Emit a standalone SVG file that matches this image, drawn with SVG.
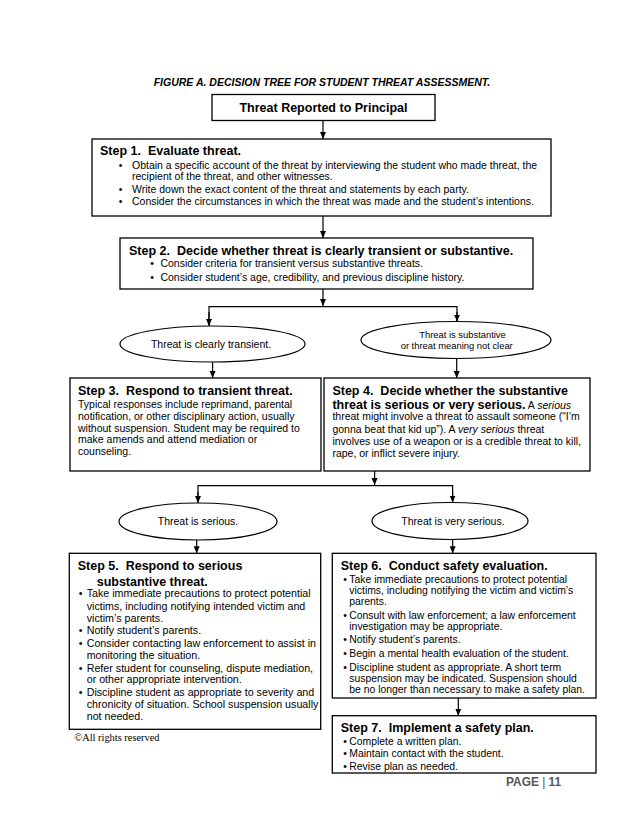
<svg xmlns="http://www.w3.org/2000/svg" width="638" height="826" viewBox="0 0 638 826">
<style>
text{font-family:"Liberation Sans",Arial,sans-serif;fill:#000}
.t{font-size:12.5px;font-weight:bold}
.b{font-size:10.5px}
.b5{font-size:10.7px}
.b6{font-size:10.4px}
.box{fill:#fff;stroke:#000;stroke-width:1.3}
.ell{fill:#fff;stroke:#000;stroke-width:1.2}
.ln{fill:none;stroke:#000;stroke-width:1.2}
.mid{text-anchor:middle}
</style>
<defs>
<marker id="ah" markerUnits="userSpaceOnUse" markerWidth="8" markerHeight="8" viewBox="0 0 8 8" refX="7" refY="4" orient="auto">
<path d="M0,1 L7,4 L0,7 Z" fill="#000"/>
</marker>
</defs>
<rect width="638" height="826" fill="#fff"/>

<text x="322" y="86" class="mid" style="font-size:10.5px;font-weight:bold;font-style:italic">FIGURE A. DECISION TREE FOR STUDENT THREAT ASSESSMENT.</text>

<g id="connectors">
<line class="ln" x1="323" y1="120.5" x2="323" y2="139" marker-end="url(#ah)"/>
<line class="ln" x1="323" y1="216" x2="323" y2="238" marker-end="url(#ah)"/>
<line class="ln" x1="323" y1="289" x2="323" y2="306" marker-end="url(#ah)"/>
<polyline class="ln" points="209,325 209,306.7 457,306.7 457,321.5"/>
<line class="ln" x1="209" y1="312" x2="209" y2="326" marker-end="url(#ah)"/>
<line class="ln" x1="457" y1="312" x2="457" y2="321.5" marker-end="url(#ah)"/>
<line class="ln" x1="212.6" y1="362" x2="212.6" y2="378" marker-end="url(#ah)"/>
<line class="ln" x1="456.7" y1="358.5" x2="456.7" y2="378" marker-end="url(#ah)"/>
<line class="ln" x1="374.6" y1="471" x2="374.6" y2="485" marker-end="url(#ah)"/>
<polyline class="ln" points="198,502 198,485.7 452.6,485.7 452.6,502.5"/>
<line class="ln" x1="198" y1="492" x2="198" y2="503" marker-end="url(#ah)"/>
<line class="ln" x1="452.6" y1="492" x2="452.6" y2="502.5" marker-end="url(#ah)"/>
<line class="ln" x1="196.7" y1="540" x2="196.7" y2="553.3" marker-end="url(#ah)"/>
<line class="ln" x1="452.7" y1="539.5" x2="452.7" y2="553.3" marker-end="url(#ah)"/>
<line class="ln" x1="458.3" y1="698" x2="458.3" y2="715.7" marker-end="url(#ah)"/>
</g>

<g id="start">
<rect class="box" x="212" y="94.5" width="223" height="26"/>
<text x="323.5" y="111.5" class="t mid">Threat Reported to Principal</text>
</g>

<g id="step1">
<rect class="box" x="92" y="139" width="459" height="77"/>
<text x="100" y="155" class="t">Step 1.<tspan dx="3.5"> Evaluate threat.</tspan></text>
<g class="b">
<text x="120.5" y="169" class="mid">•</text><text x="132" y="169">Obtain a specific account of the threat by interviewing the student who made threat, the</text>
<text x="132" y="180.4">recipient of the threat, and other witnesses.</text>
<text x="120.5" y="193" class="mid">•</text><text x="132" y="193">Write down the exact content of the threat and statements by each party.</text>
<text x="120.5" y="205" class="mid">•</text><text x="132" y="205">Consider the circumstances in which the threat was made and the student’s intentions.</text>
</g>
</g>

<g id="step2">
<rect class="box" x="120" y="238" width="413" height="51"/>
<text x="129" y="254.5" class="t">Step 2.<tspan dx="3.5"> Decide whether threat is clearly transient or substantive.</tspan></text>
<g class="b">
<text x="152" y="267" class="mid">•</text><text x="160.4" y="267">Consider criteria for transient versus substantive threats.</text>
<text x="152" y="280.7" class="mid">•</text><text x="160.4" y="280.7">Consider student’s age, credibility, and previous discipline history.</text>
</g>
</g>

<g id="transient">
<ellipse class="ell" cx="212.5" cy="344" rx="92.5" ry="18"/>
<text x="211" y="348" class="b mid">Threat is clearly transient.</text>
</g>

<g id="substantive">
<ellipse class="ell" cx="456" cy="340" rx="95" ry="18.5"/>
<text x="462.5" y="338.3" class="mid" style="font-size:9.4px">Threat is substantive</text>
<text x="456.7" y="349" class="mid" style="font-size:9.4px">or threat meaning not clear</text>
</g>

<g id="step3">
<rect class="box" x="70" y="378" width="251" height="93"/>
<text x="78" y="395.2" class="t">Step 3.<tspan dx="3.5"> Respond to transient threat.</tspan></text>
<g class="b">
<text x="78" y="407.7">Typical responses include reprimand, parental</text>
<text x="78" y="419.6">notification, or other disciplinary action, usually</text>
<text x="78" y="431.5">without suspension. Student may be required to</text>
<text x="78" y="443.4">make amends and attend mediation or</text>
<text x="78" y="455.3">counseling.</text>
</g>
</g>

<g id="step4">
<rect class="box" x="324" y="378" width="266" height="93"/>
<text x="332.4" y="395.2" class="t">Step 4.<tspan dx="3.5"> Decide whether the substantive</tspan></text>
<text x="332.4" y="408.5"><tspan class="t">threat is serious or very serious.</tspan><tspan class="b"> A </tspan><tspan class="b" font-style="italic">serious</tspan></text>
<g class="b">
<text x="332.4" y="420.4">threat might involve a threat to assault someone (“I’m</text>
<text x="332.4" y="433">gonna beat that kid up”). A <tspan font-style="italic">very serious</tspan> threat</text>
<text x="332.4" y="445.4">involves use of a weapon or is a credible threat to kill,</text>
<text x="332.4" y="457">rape, or inflict severe injury.</text>
</g>
</g>

<g id="serious">
<ellipse class="ell" cx="198" cy="521.5" rx="79" ry="18.5"/>
<text x="198" y="525.3" class="b mid">Threat is serious.</text>
</g>

<g id="veryserious">
<ellipse class="ell" cx="450" cy="521" rx="78" ry="18.5"/>
<text x="453" y="525" class="b mid">Threat is very serious.</text>
</g>

<g id="step5">
<rect class="box" x="69.3" y="553.3" width="251.4" height="176"/>
<text x="77.7" y="570" class="t">Step 5.<tspan dx="3.5"> Respond to serious</tspan></text>
<text x="96.7" y="585.5" class="t">substantive threat.</text>
<g class="b5">
<text x="80.7" y="597.1" class="mid">•</text><text x="86.7" y="597.1">Take immediate precautions to protect potential</text>
<text x="86.7" y="609.5">victims, including notifying intended victim and</text>
<text x="86.7" y="621.5">victim’s parents.</text>
<text x="80.7" y="633.8" class="mid">•</text><text x="86.7" y="633.8">Notify student’s parents.</text>
<text x="80.7" y="646.8" class="mid">•</text><text x="86.7" y="646.8">Consider contacting law enforcement to assist in</text>
<text x="86.7" y="658.5">monitoring the situation.</text>
<text x="80.7" y="671.5" class="mid">•</text><text x="86.7" y="671.5">Refer student for counseling, dispute mediation,</text>
<text x="86.7" y="683.1">or other appropriate intervention.</text>
<text x="80.7" y="696.1" class="mid">•</text><text x="86.7" y="696.1">Discipline student as appropriate to severity and</text>
<text x="86.7" y="707.8">chronicity of situation. School suspension usually</text>
<text x="86.7" y="719.5">not needed.</text>
</g>
</g>

<g id="step6">
<rect class="box" x="332.3" y="553.3" width="263.7" height="144.7"/>
<text x="340.7" y="570" class="t">Step 6.<tspan dx="3.5"> Conduct safety evaluation.</tspan></text>
<g class="b6">
<text x="345" y="583" class="mid">•</text><text x="349.3" y="583">Take immediate precautions to protect potential</text>
<text x="349.3" y="594.3">victims, including notifying the victim and victim’s</text>
<text x="349.3" y="604.7">parents.</text>
<text x="345" y="618.7" class="mid">•</text><text x="349.3" y="618.7">Consult with law enforcement; a law enforcement</text>
<text x="349.3" y="629.7">investigation may be appropriate.</text>
<text x="345" y="643.4" class="mid">•</text><text x="349.3" y="643.4">Notify student’s parents.</text>
<text x="345" y="657.4" class="mid">•</text><text x="349.3" y="657.4">Begin a mental health evaluation of the student.</text>
<text x="345" y="670.7" class="mid">•</text><text x="349.3" y="670.7">Discipline student as appropriate. A short term</text>
<text x="349.3" y="681.7">suspension may be indicated. Suspension should</text>
<text x="349.3" y="693.4">be no longer than necessary to make a safety plan.</text>
</g>
</g>

<g id="step7">
<rect class="box" x="332.3" y="715.7" width="263.7" height="57.3"/>
<text x="340.7" y="732" class="t">Step 7.<tspan dx="3.5"> Implement a safety plan.</tspan></text>
<g class="b6">
<text x="345" y="744.5" class="mid">•</text><text x="349.3" y="744.5">Complete a written plan.</text>
<text x="345" y="757" class="mid">•</text><text x="349.3" y="757">Maintain contact with the student.</text>
<text x="345" y="770.3" class="mid">•</text><text x="349.3" y="770.3">Revise plan as needed.</text>
</g>
</g>

<text x="74.3" y="741" style="font-family:'Liberation Serif','Times New Roman',serif;font-size:10.4px">©All rights reserved</text>
<text x="506" y="786" style="font-size:11.9px;font-weight:bold;fill:#555">PAGE <tspan font-weight="normal">|</tspan> 11</text>
</svg>
